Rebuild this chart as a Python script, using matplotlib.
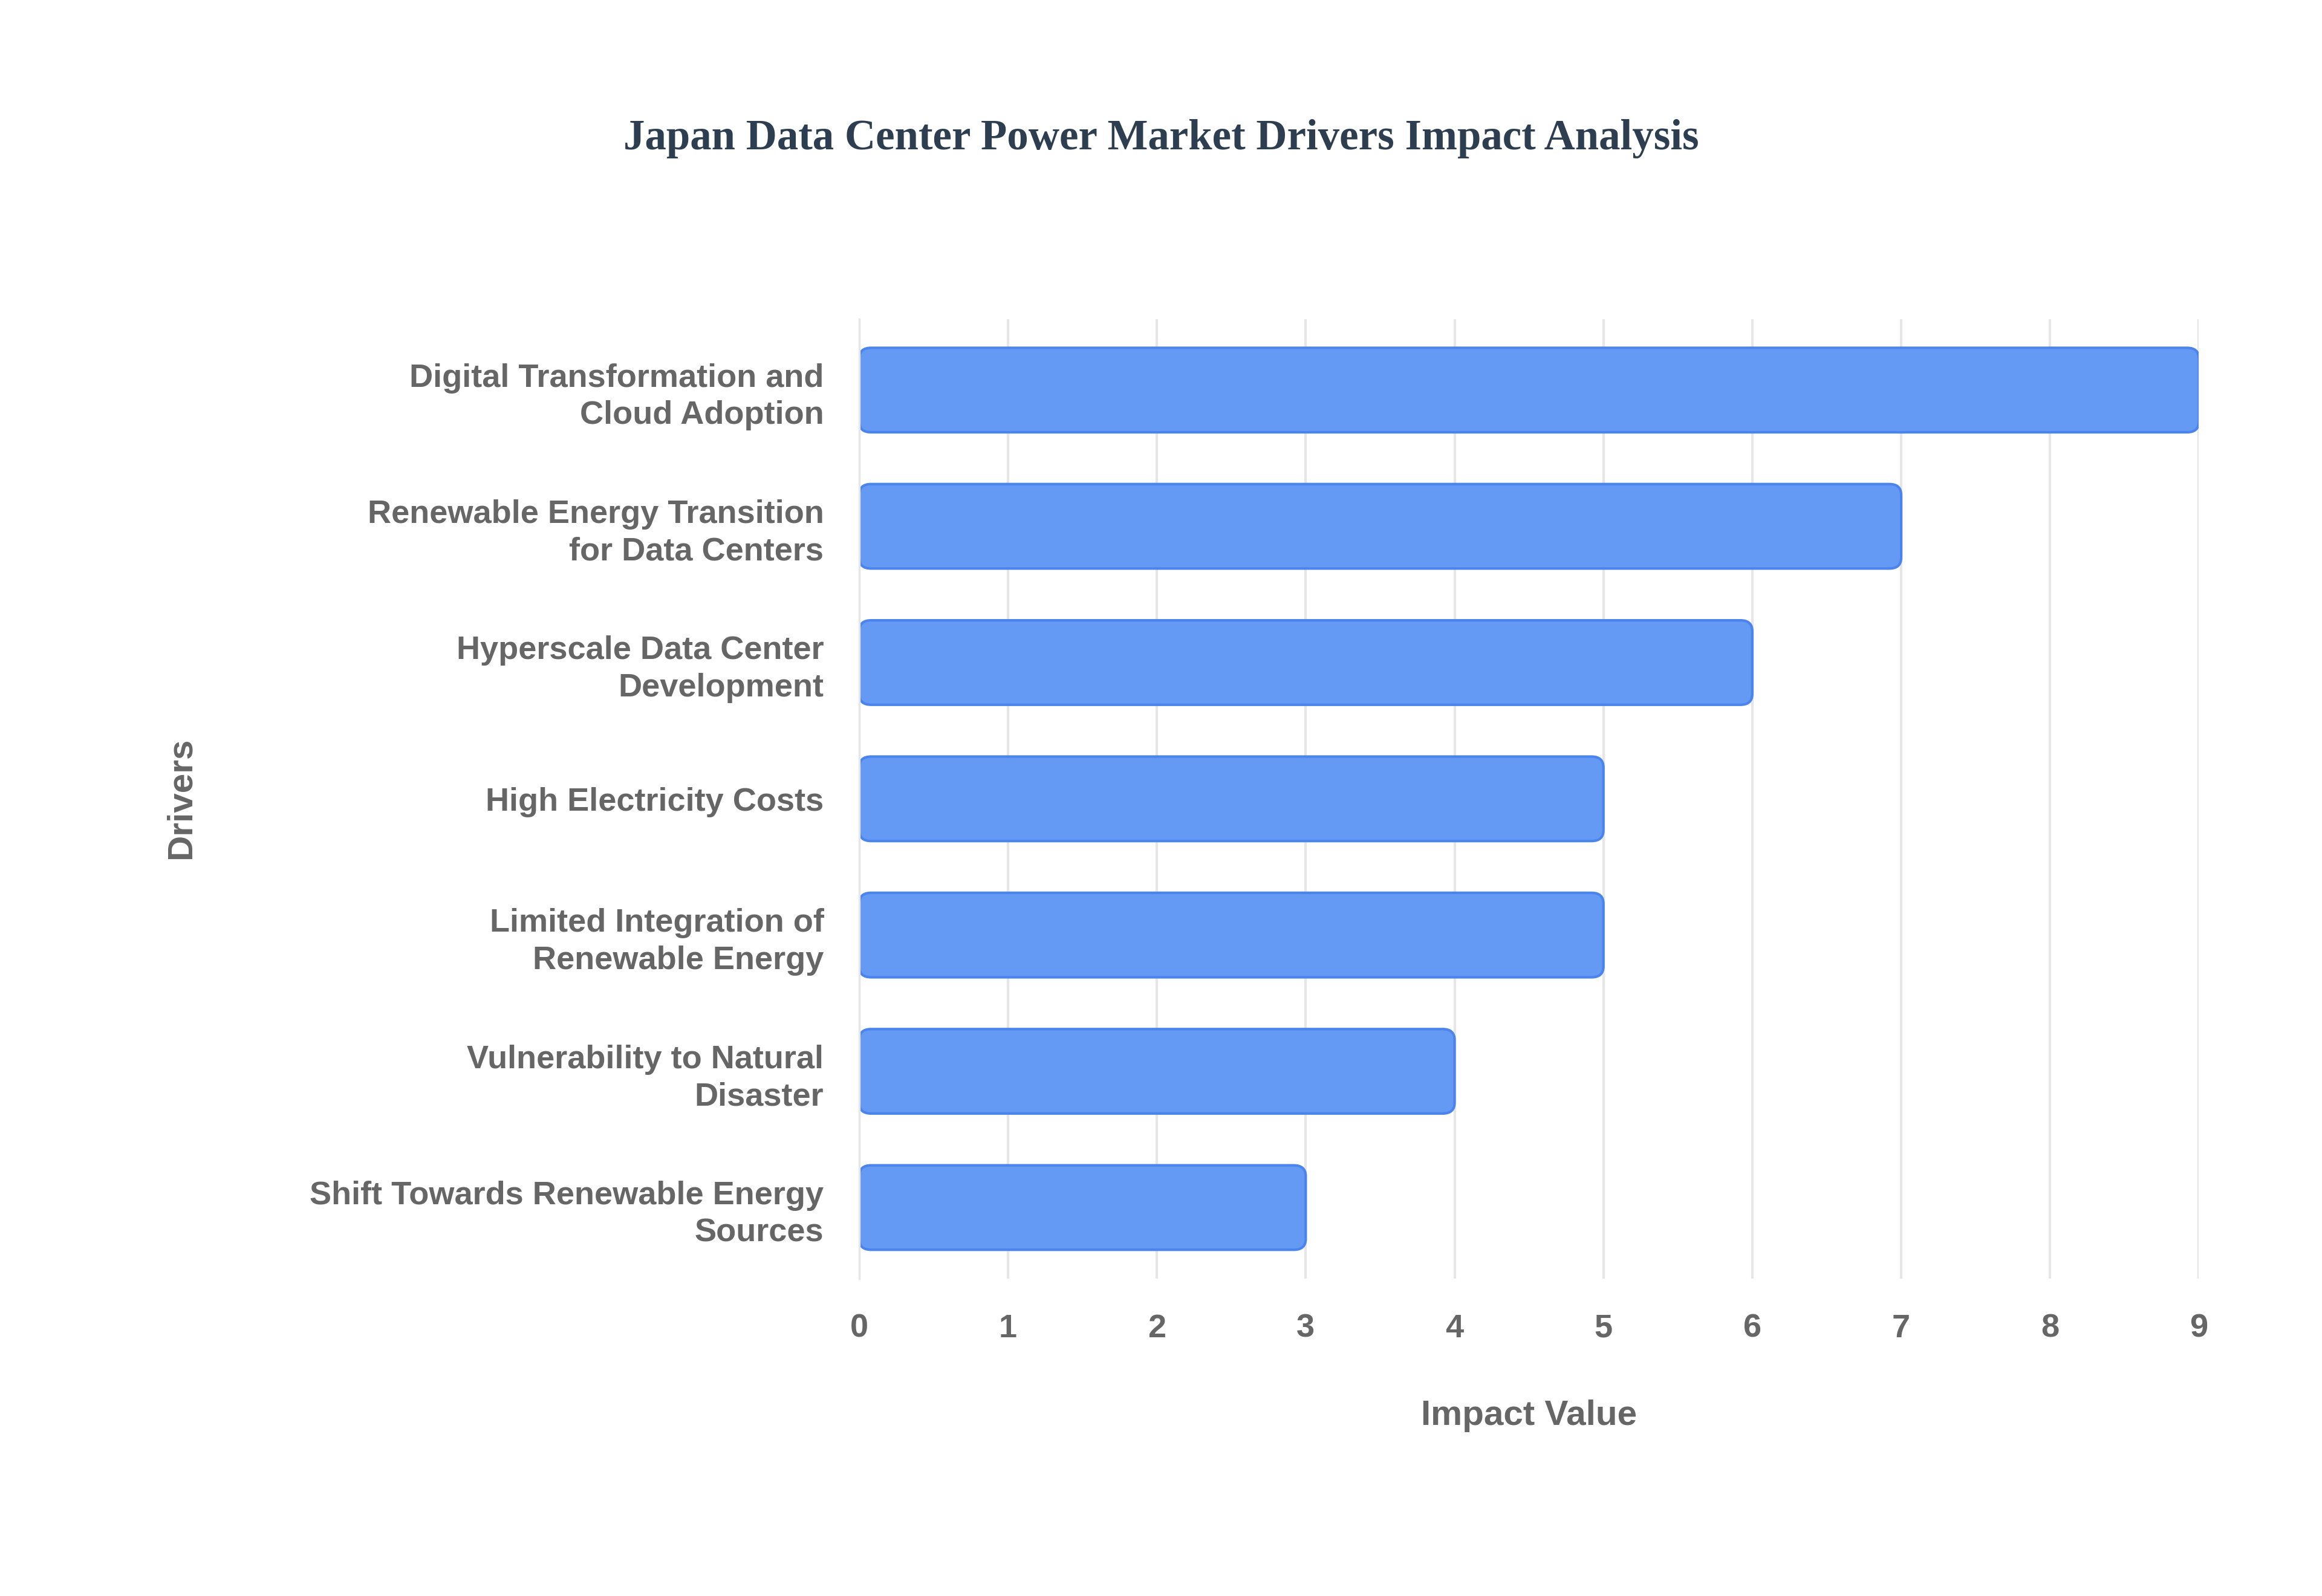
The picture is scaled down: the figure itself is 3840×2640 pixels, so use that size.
import matplotlib.pyplot as plt
from matplotlib.patches import FancyBboxPatch

drivers = [
    "Digital Transformation and\nCloud Adoption",
    "Renewable Energy Transition\nfor Data Centers",
    "Hyperscale Data Center\nDevelopment",
    "High Electricity Costs",
    "Limited Integration of\nRenewable Energy",
    "Vulnerability to Natural\nDisaster",
    "Shift Towards Renewable Energy\nSources",
]
impact = [9, 7, 6, 5, 5, 4, 3]

BAR_COLOR = "#6499f4"
EDGE_COLOR = "#4a84ec"
TEXT_COLOR = "#666666"

plt.rcParams["font.family"] = ["Liberation Sans", "DejaVu Sans"]

fig = plt.figure(figsize=(12.8, 8.8), dpi=300)
ax = fig.add_axes([0.37, 0.199, 0.577, 0.601])

n = len(drivers)
bar_h = 0.62
for i, (label, value) in enumerate(zip(drivers, impact)):
    y = n - 1 - i
    patch = FancyBboxPatch(
        (0, y - bar_h / 2), value, bar_h,
        boxstyle="round,pad=0,rounding_size=0.08",
        facecolor=BAR_COLOR, edgecolor=EDGE_COLOR, linewidth=1.0,
        mutation_aspect=1.0,
    )
    ax.add_patch(patch)

ax.set_xlim(0, 9)
ax.set_ylim(-0.52, n - 1 + 0.52)
ax.set_yticks(range(n))
ax.set_yticklabels(drivers[::-1], fontsize=13, fontweight="bold",
                   color=TEXT_COLOR, linespacing=1.3)
ax.set_xticks(range(10))
ax.tick_params(axis="x", labelsize=13, labelcolor=TEXT_COLOR, length=0, pad=14)
ax.tick_params(axis="y", length=0, pad=14)
for lab in ax.get_xticklabels():
    lab.set_fontweight("bold")

ax.grid(axis="x", color="#e6e6e6", linewidth=1.0)
ax.set_axisbelow(True)
for side in ["top", "right", "bottom"]:
    ax.spines[side].set_visible(False)
ax.spines["left"].set_color("#e6e6e6")

ax.set_xlabel("Impact Value", fontsize=14, fontweight="bold",
              color=TEXT_COLOR, labelpad=22)
fig.text(0.078, 0.5, "Drivers", rotation=90, fontsize=14, fontweight="bold",
         color=TEXT_COLOR, ha="center", va="center")

fig.text(0.5, 0.913, "Japan Data Center Power Market Drivers Impact Analysis",
         ha="center", va="center", fontsize=17, fontweight="bold",
         color="#2c3e50", family=["Liberation Serif", "DejaVu Serif"])

fig.savefig("out.png", dpi=300, facecolor="white")
